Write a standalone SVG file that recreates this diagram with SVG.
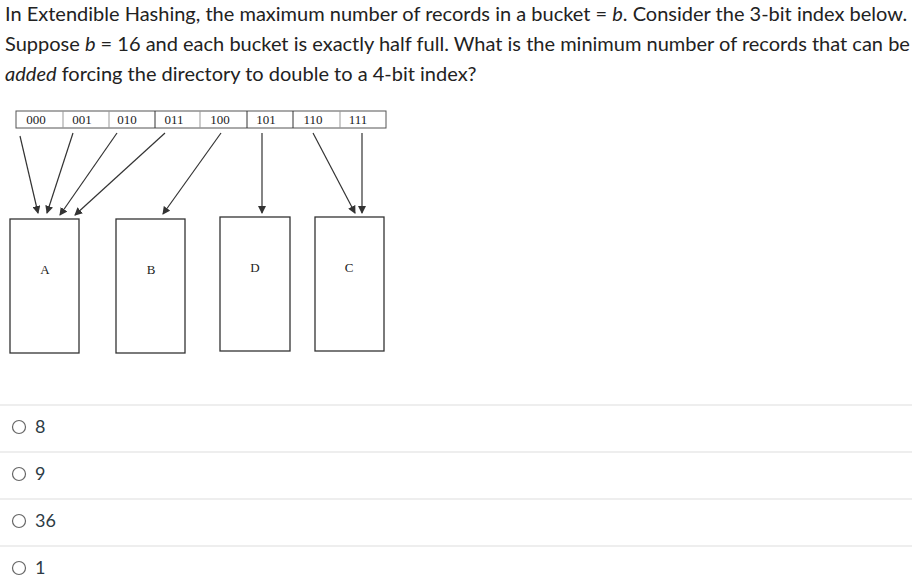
<svg xmlns="http://www.w3.org/2000/svg" width="916" height="581" viewBox="0 0 916 581">
<defs>
<style>
.q{font-family:Lato,"Liberation Sans",sans-serif;font-size:18px;fill:#2d3b45}
.t{font-size:20px;fill:#222}
.d{font-family:"Liberation Serif",serif;font-size:13px;fill:#222;text-anchor:middle}
.b{fill:#fff;stroke:#333;stroke-width:1.3}
.c line{stroke:#333;stroke-width:1.2;marker-end:url(#ah)}
.sep{stroke:#ddd;stroke-width:1}
.r{fill:#fff;stroke:#666;stroke-width:1.2}
</style>
<marker id="ah" markerWidth="8" markerHeight="8" refX="7" refY="4" orient="auto" markerUnits="userSpaceOnUse"><path d="M0,0 L8,4 L0,8 z" fill="#333"/></marker>
</defs>
<rect width="916" height="581" fill="#fff"/>
<text class="q t" x="5" y="21">In Extendible Hashing, the maximum number of records in a bucket = <tspan font-style="italic">b</tspan>. Consider the 3-bit index below.</text>
<text class="q t" x="5" y="51">Suppose <tspan font-style="italic">b</tspan> = 16 and each bucket is exactly half full. What is the minimum number of records that can be</text>
<text class="q t" x="5" y="81"><tspan font-style="italic">added</tspan> forcing the directory to double to a 4-bit index?</text>
<g id="directory">
<rect x="16" y="111" width="370" height="17" fill="#fff" stroke="#555"/>
<g stroke="#999"><line x1="63" y1="111" x2="63" y2="128"/><line x1="109" y1="111" x2="109" y2="128"/><line x1="155" y1="111" x2="155" y2="128" stroke="#333"/><line x1="200" y1="111" x2="200" y2="128"/><line x1="247" y1="111" x2="247" y2="128" stroke="#333"/><line x1="293" y1="111" x2="293" y2="128" stroke="#333"/><line x1="340" y1="111" x2="340" y2="128"/></g>
<text class="d" x="36" y="124">000</text><text class="d" x="82" y="124">001</text><text class="d" x="127" y="124">010</text><text class="d" x="174" y="124">011</text><text class="d" x="220" y="124">100</text><text class="d" x="266" y="124">101</text><text class="d" x="313" y="124">110</text><text class="d" x="358" y="124">111</text>
</g>
<g id="connectors" class="c">
<line x1="20" y1="136" x2="38" y2="213"/>
<line x1="73" y1="133" x2="47" y2="213"/>
<line x1="117" y1="133" x2="60" y2="215"/>
<line x1="165" y1="133" x2="75" y2="215"/>
<line x1="221" y1="133" x2="163" y2="214"/>
<line x1="262" y1="133" x2="262" y2="213"/>
<line x1="313" y1="133" x2="355" y2="213"/>
<line x1="362" y1="133" x2="362" y2="213"/>
</g>
<g id="A"><rect class="b" x="10" y="219" width="69" height="134"/><text class="d" x="45" y="274">A</text></g>
<g id="B"><rect class="b" x="116" y="219" width="69" height="134"/><text class="d" x="151" y="274">B</text></g>
<g id="D"><rect class="b" x="220" y="217" width="70" height="134"/><text class="d" x="255" y="272">D</text></g>
<g id="C"><rect class="b" x="315" y="217" width="69" height="134"/><text class="d" x="349" y="272">C</text></g>
<line class="sep" x1="0" y1="405" x2="912" y2="405"/>
<line class="sep" x1="0" y1="452" x2="912" y2="452"/>
<line class="sep" x1="0" y1="499" x2="912" y2="499"/>
<line class="sep" x1="0" y1="546" x2="912" y2="546"/>
<circle class="r" cx="19" cy="427" r="6.5"/><text class="q" x="35" y="433">8</text>
<circle class="r" cx="19" cy="474" r="6.5"/><text class="q" x="35" y="480">9</text>
<circle class="r" cx="19" cy="521" r="6.5"/><text class="q" x="35" y="527">36</text>
<circle class="r" cx="19" cy="568" r="6.5"/><text class="q" x="35" y="574">1</text>
</svg>
